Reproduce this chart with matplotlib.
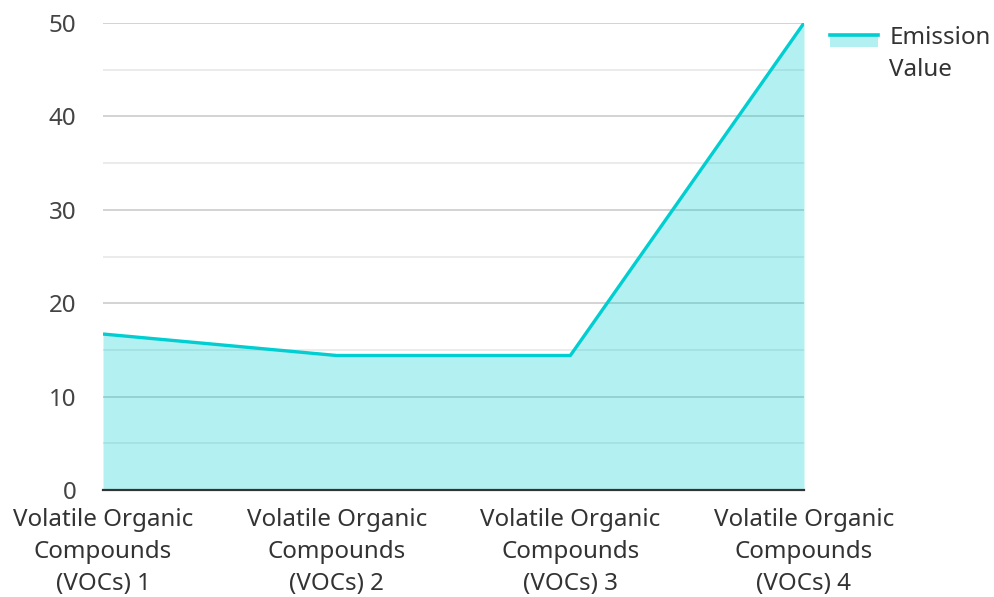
import matplotlib.pyplot as plt
from matplotlib.legend_handler import HandlerBase
from matplotlib.patches import Rectangle
from matplotlib.lines import Line2D

categories = ['Volatile Organic\nCompounds\n(VOCs) 1', 'Volatile Organic\nCompounds\n(VOCs) 2',
              'Volatile Organic\nCompounds\n(VOCs) 3', 'Volatile Organic\nCompounds\n(VOCs) 4']
values = [16.7, 14.4, 14.4, 50]
series_name = 'Emission\nValue'

plt.rcParams['font.family'] = ['Noto Sans', 'DejaVu Sans']

line_color = '#00CED1'
fs = 17.4


class AreaHandler(HandlerBase):
    def create_artists(self, legend, orig, xd, yd, w, h, fontsize, trans):
        yl = -yd + h * 0.5 + 14.5
        r = Rectangle((-xd, yl - 9), w, 8, facecolor=line_color, alpha=0.3,
                      edgecolor='none', transform=trans)
        ln = Line2D([-xd, -xd + w], [yl, yl], color=line_color, lw=2.6,
                    transform=trans)
        return [r, ln]


fig = plt.figure(figsize=(9.94, 5.97), dpi=100)
ax = fig.add_axes([103 / 994, 1 - 490 / 597, 701 / 994, 467 / 597])

x = list(range(len(categories)))
ax.fill_between(x, values, 0, color=line_color, alpha=0.3, linewidth=0, zorder=2)
ax.plot(x, values, color=line_color, lw=2.4, zorder=4, solid_capstyle='butt')

ax.set_xlim(0, 3)
ax.set_ylim(0, 50)
ax.set_yticks(range(0, 51, 10))
ax.set_yticks(range(5, 50, 10), minor=True)
ax.set_axisbelow(True)
ax.grid(axis='y', which='major', color='#cccccc', lw=1.2)
ax.grid(axis='y', which='minor', color='#e8e8e8', lw=1.2)
ax.tick_params(axis='y', which='both', length=0, pad=19, labelsize=fs, labelcolor='#444444')
ax.tick_params(axis='x', length=0, pad=13, labelsize=fs, labelcolor='#333333')
ax.set_xticks(x)
ax.set_xticklabels(categories, linespacing=1.45)
for s in ['left', 'right', 'top']:
    ax.spines[s].set_visible(False)
ax.spines['bottom'].set_color('#333333')
ax.spines['bottom'].set_linewidth(1.6)
ax.spines['bottom'].set_zorder(5)

leg = ax.legend([object()], [series_name], handler_map={object: AreaHandler()},
                loc='upper left', bbox_to_anchor=(1.006, 1.04), frameon=False,
                fontsize=fs, handlelength=2.0, handleheight=1.0, handletextpad=0.45,
                labelcolor='#333333', labelspacing=0.3)
for t in leg.get_texts():
    t.set_linespacing(1.45)

fig.savefig('out.png', dpi=100)
